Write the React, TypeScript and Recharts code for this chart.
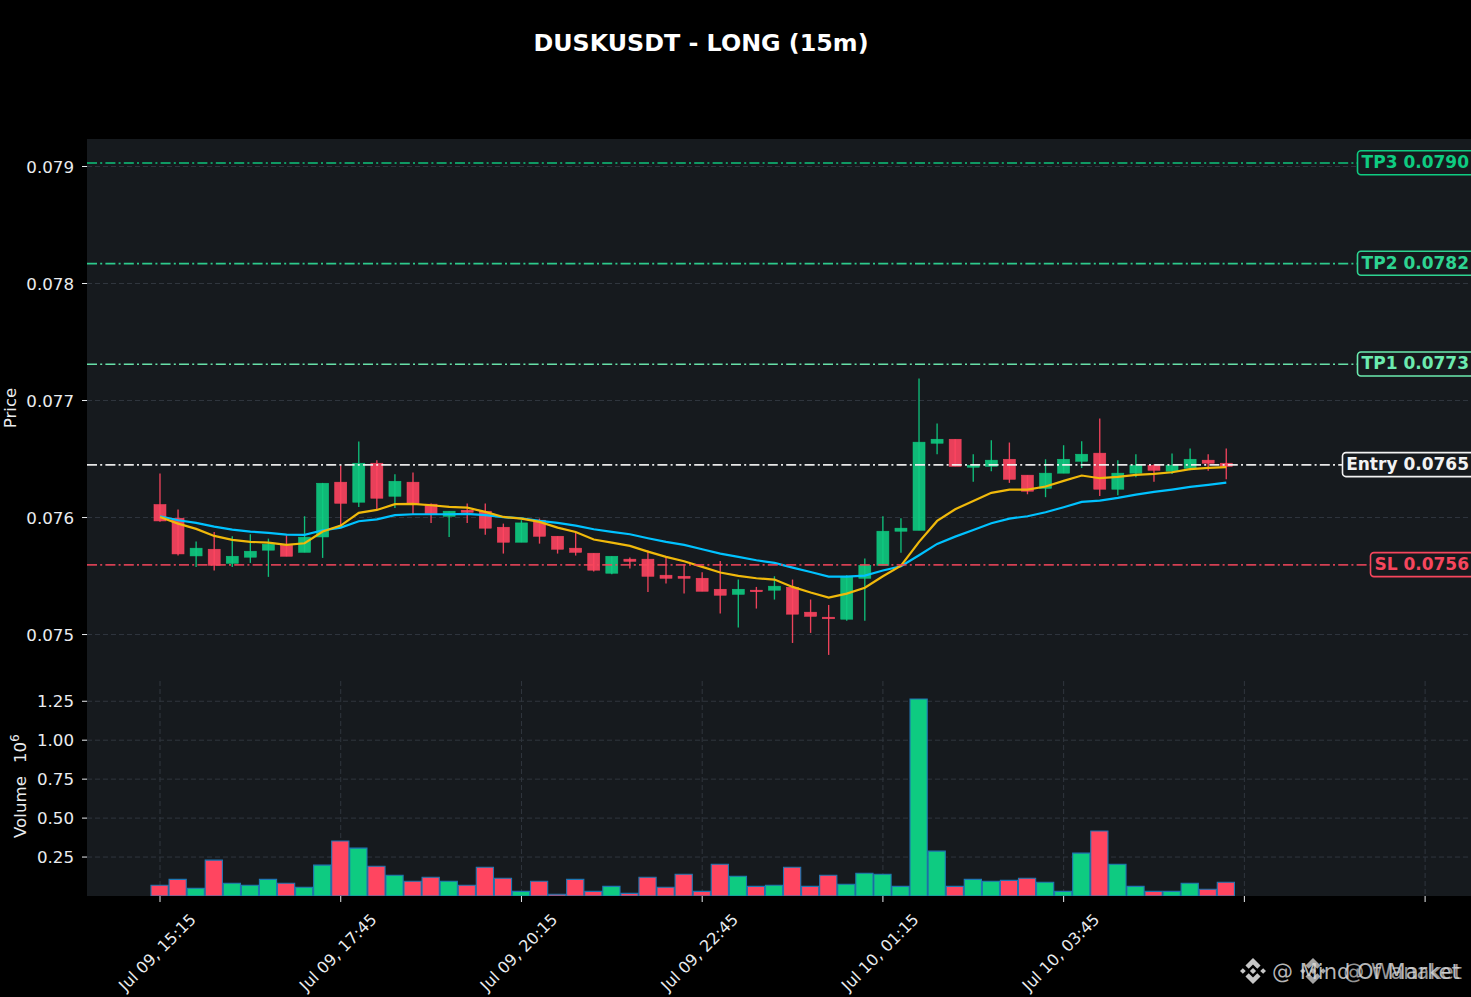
import React from 'react';
import { ComposedChart, Bar, Line, XAxis, YAxis, CartesianGrid, ReferenceLine, Rectangle } from 'recharts';

const opens = [0.076111,0.075994,0.075672,0.075729,0.075609,0.075661,0.075721,0.075763,0.075703,0.075834,0.076302,0.076131,0.076464,0.076182,0.076302,0.076114,0.076011,0.076062,0.076054,0.075917,0.075789,0.075977,0.075840,0.075738,0.075695,0.075524,0.075644,0.075644,0.075507,0.075498,0.075481,0.075387,0.075344,0.075379,0.075379,0.075404,0.075191,0.075148,0.075131,0.075481,0.075592,0.075883,0.075891,0.076635,0.076669,0.076430,0.076438,0.076498,0.076362,0.076250,0.076379,0.076481,0.076550,0.076242,0.076379,0.076447,0.076396,0.076421,0.076490,0.076464];
const closes = [0.075971,0.075689,0.075738,0.075592,0.075669,0.075712,0.075772,0.075669,0.075832,0.076293,0.076122,0.076464,0.076165,0.076310,0.076114,0.076028,0.076054,0.076045,0.075909,0.075789,0.075954,0.075840,0.075729,0.075703,0.075550,0.075669,0.075626,0.075498,0.075481,0.075481,0.075370,0.075336,0.075387,0.075373,0.075413,0.075174,0.075156,0.075139,0.075498,0.075592,0.075883,0.075909,0.076644,0.076669,0.076438,0.076447,0.076490,0.076327,0.076225,0.076379,0.076498,0.076541,0.076242,0.076379,0.076447,0.076404,0.076447,0.076498,0.076464,0.076438];
const highs = [0.076376,0.076068,0.075795,0.075877,0.075840,0.075857,0.075820,0.075849,0.076011,0.076296,0.076447,0.076649,0.076490,0.076370,0.076384,0.076119,0.076054,0.076119,0.076119,0.075948,0.075977,0.075991,0.075840,0.075877,0.075695,0.075669,0.075658,0.075721,0.075664,0.075601,0.075532,0.075629,0.075470,0.075407,0.075498,0.075470,0.075299,0.075253,0.075507,0.075649,0.076011,0.075994,0.077188,0.076803,0.076669,0.076541,0.076661,0.076641,0.076362,0.076498,0.076618,0.076652,0.076846,0.076490,0.076541,0.076456,0.076547,0.076589,0.076541,0.076589];
const lows = [0.075965,0.075675,0.075578,0.075547,0.075578,0.075612,0.075493,0.075669,0.075703,0.075655,0.075926,0.076091,0.076068,0.076082,0.076028,0.075954,0.075834,0.075954,0.075852,0.075692,0.075789,0.075777,0.075692,0.075675,0.075538,0.075515,0.075564,0.075364,0.075436,0.075350,0.075370,0.075179,0.075060,0.075222,0.075299,0.074928,0.075014,0.074826,0.075117,0.075117,0.075592,0.075698,0.075891,0.076541,0.076438,0.076305,0.076396,0.076296,0.076199,0.076174,0.076379,0.076424,0.076185,0.076191,0.076344,0.076305,0.076373,0.076404,0.076399,0.076327];
const volumes = [0.069,0.107,0.050,0.230,0.082,0.069,0.107,0.082,0.056,0.198,0.353,0.307,0.191,0.133,0.095,0.120,0.095,0.069,0.185,0.114,0.030,0.095,0.011,0.107,0.030,0.062,0.017,0.120,0.056,0.140,0.030,0.204,0.127,0.062,0.069,0.185,0.062,0.133,0.075,0.146,0.140,0.062,1.264,0.288,0.062,0.107,0.095,0.100,0.114,0.088,0.030,0.275,0.417,0.204,0.062,0.030,0.030,0.082,0.043,0.088];
const emaSlow = [0.076011,0.075977,0.075954,0.075923,0.075897,0.075880,0.075869,0.075854,0.075852,0.075891,0.075914,0.075968,0.075985,0.076020,0.076028,0.076028,0.076028,0.076031,0.076020,0.076003,0.075994,0.075971,0.075954,0.075931,0.075900,0.075877,0.075857,0.075823,0.075792,0.075766,0.075729,0.075692,0.075664,0.075635,0.075612,0.075572,0.075535,0.075495,0.075495,0.075504,0.075547,0.075584,0.075678,0.075775,0.075837,0.075894,0.075951,0.075991,0.076011,0.076045,0.076088,0.076134,0.076145,0.076168,0.076196,0.076219,0.076239,0.076262,0.076279,0.076299];
const emaFast = [0.076005,0.075948,0.075903,0.075843,0.075809,0.075792,0.075786,0.075766,0.075780,0.075880,0.075931,0.076040,0.076065,0.076114,0.076117,0.076105,0.076091,0.076085,0.076048,0.076005,0.075991,0.075963,0.075914,0.075877,0.075812,0.075786,0.075758,0.075709,0.075664,0.075626,0.075578,0.075530,0.075501,0.075481,0.075470,0.075407,0.075359,0.075316,0.075350,0.075400,0.075498,0.075589,0.075792,0.075971,0.076071,0.076142,0.076211,0.076239,0.076239,0.076265,0.076313,0.076359,0.076336,0.076347,0.076364,0.076373,0.076387,0.076413,0.076424,0.076430];
const xTicks = [0, 10, 20, 30, 40, 50, 60, 70];
const xTickLabels = ['Jul 09, 15:15', 'Jul 09, 17:45', 'Jul 09, 20:15', 'Jul 09, 22:45', 'Jul 10, 01:15', 'Jul 10, 03:45', '', ''];
const priceTicks = [0.075, 0.076, 0.077, 0.078, 0.079];
const volumeTicks = [0.25, 0.5, 0.75, 1.0, 1.25];
const levelNames = ['TP3', 'TP2', 'TP1', 'Entry', 'SL'];
const levelValues = [0.07903, 0.07817, 0.07731, 0.07645, 0.075595];
const levelLabels = ['0.0790', '0.0782', '0.0773', '0.0765', '0.0756'];

const levelColors = ['#0ECB81', '#2ED492', '#6CEBB0', '#F2F2F2', '#F6465D'];
const levelBoxLeft = [1357.5, 1357.5, 1357.5, 1342.5, 1370.5];

const W = 1471, H = 997;
const FONT = '"DejaVu Sans", sans-serif';
const PANEL = '#161A1E';
const GRID = '#30363E';
const TEXT = '#EAECEF';
const UP = '#0ECB81';
const DOWN = '#FF4560';
const DASH_GRID = '5 3';
const FS = 16.67;
const X_DOMAIN: [number, number] = [-4.04, 72.54];

const rows = opens.map((open, i) => ({
  i, open, close: closes[i], high: highs[i], low: lows[i], volume: volumes[i],
  emaSlow: emaSlow[i], emaFast: emaFast[i],
}));

function Candle(props: any) {
  const { x, y, width, height, payload } = props;
  const span = payload.high - payload.low;
  const k = span > 0 ? height / span : 0;
  const top = y + (payload.high - Math.max(payload.open, payload.close)) * k;
  const bottom = y + (payload.high - Math.min(payload.open, payload.close)) * k;
  const cx = x + width / 2;
  const color = payload.close >= payload.open ? UP : DOWN;
  return (
    <g>
      <line x1={cx} x2={cx} y1={y} y2={y + height} stroke={color} strokeOpacity={0.92} strokeWidth={1.35} />
      <rect x={x} y={top} width={width} height={Math.max(bottom - top, 1.5)} fill={color} fillOpacity={0.9} stroke={color} strokeOpacity={0.9} strokeWidth={0.6} />
    </g>
  );
}

function VolumeBar(props: any) {
  const color = props.payload.close >= props.payload.open ? UP : DOWN;
  return <Rectangle {...props} fill={color} stroke="#1F77B4" strokeWidth={1.1} />;
}

function levelLabel(i: number) {
  return (p: any) => {
    const y = p.viewBox.y;
    const left = levelBoxLeft[i];
    return (
      <g>
        <rect x={left} y={y - 12.3} width={W + 8 - left} height={24} rx={3.5} ry={3.5} fill={PANEL} stroke={levelColors[i]} strokeWidth={1.6} />
        <text x={1469} y={y + 5.2} textAnchor="end" fontFamily={FONT} fontWeight={700} fontSize={17} fill={levelColors[i]}>
          {levelNames[i]} {levelLabels[i]}
        </text>
      </g>
    );
  };
}

function DateTick(props: any) {
  const { x, y, payload } = props;
  const label = xTickLabels[xTicks.indexOf(payload.value)];
  if (!label) return null;
  const cy = y + 49;
  return (
    <text x={x - 2} y={cy} transform={`rotate(-45 ${x - 2} ${cy})`} textAnchor="middle" dominantBaseline="middle" fontFamily={FONT} fontSize={16} fill={TEXT}>
      {label}
    </text>
  );
}

function Logo({ x, y, s, o }: { x: number; y: number; s: number; o: number }) {
  const r = s / 2;
  const d = (cx: number, cy: number, a: number) => `${cx},${cy - a} ${cx + a},${cy} ${cx},${cy + a} ${cx - a},${cy}`;
  const chevT = `${x},${y - r} ${x + r * 0.58},${y - r * 0.42} ${x + r * 0.33},${y - r * 0.17} ${x},${y - r * 0.5} ${x - r * 0.33},${y - r * 0.17} ${x - r * 0.58},${y - r * 0.42}`;
  const chevB = `${x},${y + r} ${x + r * 0.58},${y + r * 0.42} ${x + r * 0.33},${y + r * 0.17} ${x},${y + r * 0.5} ${x - r * 0.33},${y + r * 0.17} ${x - r * 0.58},${y + r * 0.42}`;
  return (
    <g fill="#DDDDDD" opacity={o}>
      <polygon points={chevT} />
      <polygon points={chevB} />
      <polygon points={d(x, y, r * 0.24)} />
      <polygon points={d(x - r * 0.78, y, r * 0.22)} />
      <polygon points={d(x + r * 0.78, y, r * 0.22)} />
    </g>
  );
}

export default function App() {
  const layer: React.CSSProperties = { position: 'absolute', left: 0, top: 0 };
  return (
    <div style={{ position: 'absolute', left: 0, top: 0, width: W, height: H, background: '#000', overflow: 'hidden' }}>
      <div style={layer}>
        <ComposedChart width={W} height={H} data={rows} margin={{ top: 139, right: 0, bottom: 316, left: 0 }}>
          <CartesianGrid fill={PANEL} stroke={GRID} strokeDasharray={DASH_GRID} strokeWidth={1} syncWithTicks />
          <XAxis dataKey="i" type="number" domain={X_DOMAIN} ticks={xTicks} allowDataOverflow height={0} tick={false} tickLine={false} axisLine={false} />
          <YAxis type="number" width={87} domain={[0.074603, 0.079235]} ticks={priceTicks} allowDataOverflow
            axisLine={false} tickSize={5} tickMargin={8} tickLine={{ stroke: TEXT, strokeWidth: 1 }}
            tick={{ fill: TEXT, fontFamily: FONT, fontSize: FS, dy: 1 }} tickFormatter={(v: number) => v.toFixed(3)} />
          <Bar dataKey={(d: any) => [d.low, d.high]} barSize={12} shape={Candle} isAnimationActive={false} />
          <Line dataKey="emaSlow" type="linear" stroke="#00C2FF" strokeWidth={2.2} dot={false} activeDot={false} isAnimationActive={false} />
          <Line dataKey="emaFast" type="linear" stroke="#F0B90B" strokeWidth={2.2} dot={false} activeDot={false} isAnimationActive={false} />
          {levelValues.map((v, i) => (
            <ReferenceLine key={levelNames[i]} y={v} stroke={levelColors[i]} strokeOpacity={i === 4 ? 0.85 : 0.95} strokeWidth={1.7} strokeDasharray="10 3.2 2 3.2" label={levelLabel(i)} />
          ))}
        </ComposedChart>
      </div>
      <div style={layer}>
        <ComposedChart width={W} height={H} data={rows} margin={{ top: 681, right: 0, bottom: 0, left: 0 }}>
          <CartesianGrid fill={PANEL} stroke={GRID} strokeDasharray={DASH_GRID} strokeWidth={1} syncWithTicks />
          <XAxis dataKey="i" type="number" domain={X_DOMAIN} ticks={xTicks} allowDataOverflow height={101} axisLine={false}
            tickSize={6} tickLine={{ stroke: TEXT, strokeWidth: 1 }} tick={DateTick} interval={0} />
          <YAxis type="number" width={87} domain={[0, 1.38]} ticks={volumeTicks} allowDataOverflow axisLine={false}
            tickSize={5} tickMargin={8} tickLine={{ stroke: TEXT, strokeWidth: 1 }}
            tick={{ fill: TEXT, fontFamily: FONT, fontSize: FS }} tickFormatter={(v: number) => v.toFixed(2)} />
          <Bar dataKey="volume" barSize={17.2} shape={VolumeBar} isAnimationActive={false} />
        </ComposedChart>
      </div>
      <svg width={W} height={H} style={{ ...layer, pointerEvents: 'none' }}>
        <text x={701} y={51} textAnchor="middle" fontFamily={FONT} fontWeight={700} fontSize={23.8} fill="#FFFFFF">DUSKUSDT - LONG (15m)</text>
        <text transform="translate(15.5,408) rotate(-90)" textAnchor="middle" fontFamily={FONT} fontSize={FS} fill={TEXT}>Price</text>
        <text transform="translate(25.5,838) rotate(-90)" fontFamily={FONT} fontSize={FS} fill={TEXT}>
          Volume
          <tspan dx={13}>10</tspan>
          <tspan dy={-7} fontSize={11.7}>6</tspan>
        </text>
        <Logo x={1253} y={971} s={26} o={0.9} />
        <Logo x={1313} y={971} s={26} o={0.75} />
        <text x={1272} y={979} fontFamily={FONT} fontSize={21} fill="#D9D9D9" fillOpacity={0.85}>@ Mind Of Market</text>
        <text x={1462} y={979} textAnchor="end" fontFamily={FONT} fontSize={21} fill="#D9D9D9" fillOpacity={0.7}>@ Wanaket</text>
      </svg>
    </div>
  );
}
